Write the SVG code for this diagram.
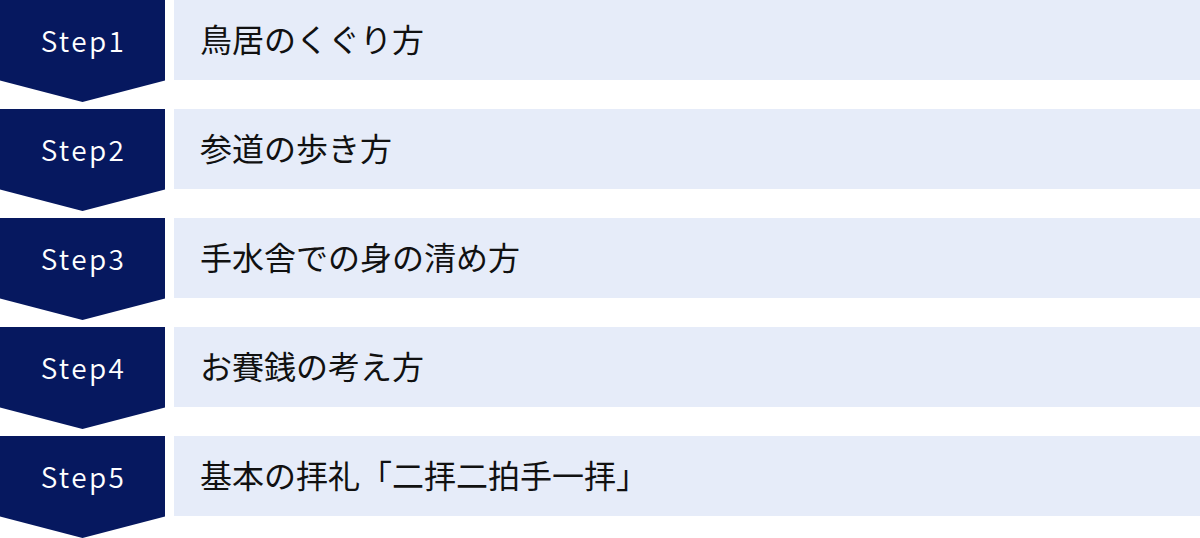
<svg xmlns="http://www.w3.org/2000/svg" width="1200" height="538" viewBox="0 0 1200 538">
<defs>
<style>
.badge{fill:#06185f;}
.bar{fill:#e6ecf9;}
.step{font-family:"Noto Sans CJK JP","Noto Sans",sans-serif;font-size:28px;font-weight:350;fill:#ffffff;text-anchor:middle;letter-spacing:2.4px;}
.label{font-family:"Noto Sans CJK JP","Noto Sans",sans-serif;font-size:32px;fill:#111111;}
</style>
<polygon id="arrow" points="0,0 165,0 165,80.5 82.5,102 0,80.5"/>
</defs>
<g id="connectors"></g>
<g id="step1" transform="translate(0,0)">
<use href="#arrow" class="badge"/>
<rect class="bar" x="174" y="0" width="1026" height="80"/>
<text class="step" x="83.5" y="52">Step1</text>
<text class="label" x="200" y="52">鳥居のくぐり方</text>
</g>
<g id="step2" transform="translate(0,109)">
<use href="#arrow" class="badge"/>
<rect class="bar" x="174" y="0" width="1026" height="80"/>
<text class="step" x="83.5" y="52">Step2</text>
<text class="label" x="200" y="52">参道の歩き方</text>
</g>
<g id="step3" transform="translate(0,218)">
<use href="#arrow" class="badge"/>
<rect class="bar" x="174" y="0" width="1026" height="80"/>
<text class="step" x="83.5" y="52">Step3</text>
<text class="label" x="200" y="52">手水舎での身の清め方</text>
</g>
<g id="step4" transform="translate(0,327)">
<use href="#arrow" class="badge"/>
<rect class="bar" x="174" y="0" width="1026" height="80"/>
<text class="step" x="83.5" y="52">Step4</text>
<text class="label" x="200" y="52">お賽銭の考え方</text>
</g>
<g id="step5" transform="translate(0,436)">
<use href="#arrow" class="badge"/>
<rect class="bar" x="174" y="0" width="1026" height="80"/>
<text class="step" x="83.5" y="52">Step5</text>
<text class="label" x="200" y="52">基本の拝礼「二拝二拍手一拝」</text>
</g>
</svg>
